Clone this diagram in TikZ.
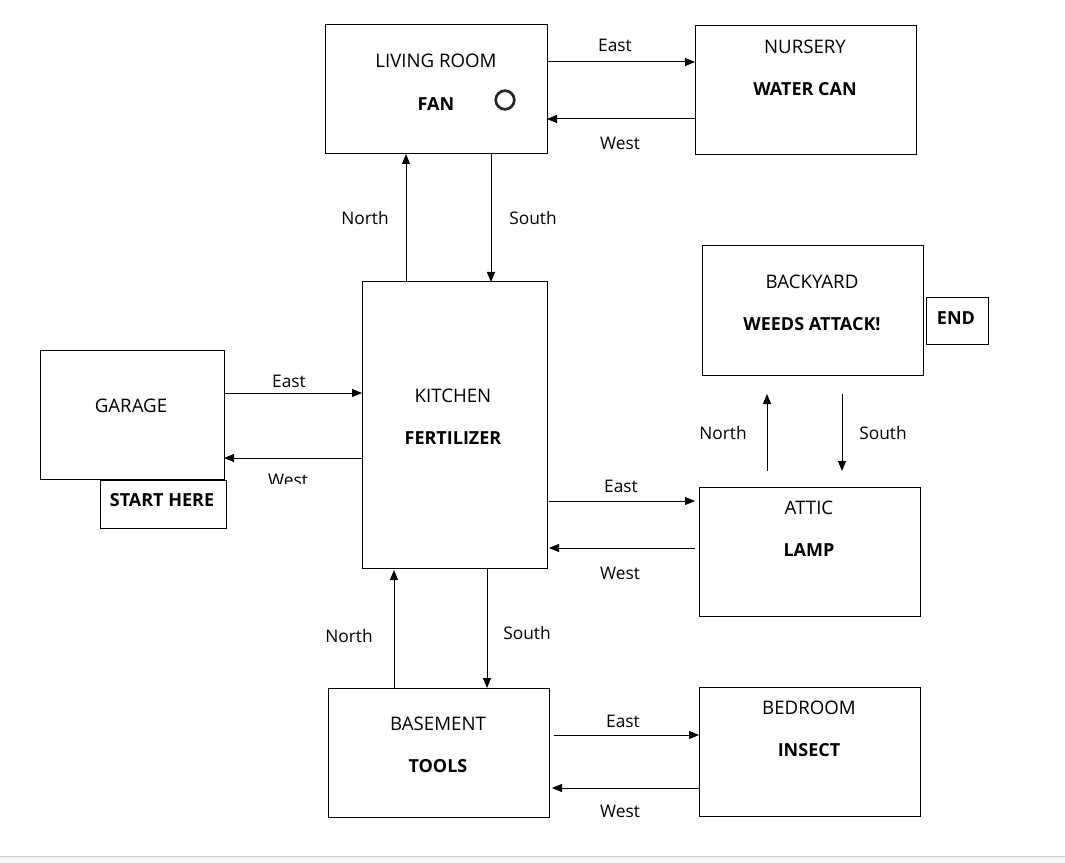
\documentclass[tikz,border=0pt]{standalone}
\usepackage{fontspec}
\setmainfont{Open Sans}
\usetikzlibrary{arrows.meta}
\tikzset{
  room/.style={draw=black, line width=0.75pt, inner sep=0pt, outer sep=0pt, fill=white},
  ttl/.style={font=\fontsize{14pt}{16pt}\selectfont, inner sep=0pt},
  itm/.style={font=\fontsize{13.5pt}{16pt}\selectfont\bfseries, inner sep=0pt},
  lbl/.style={font=\fontsize{13pt}{15pt}\selectfont, inner sep=0pt},
  arr/.style={line width=0.75pt, -{Triangle[length=7.5pt,width=6pt]}},
}
\begin{document}
\begin{tikzpicture}[x=0.75pt,y=-0.75pt]
\useasboundingbox (0,0) rectangle (1065,863);
\fill[gray!8] (0,857) rectangle (1065,863);
\draw[gray!40, line width=0.75pt] (0,856.5) -- (1065,856.5);

% boxes
\node[room, minimum width=166.5pt, minimum height=96.75pt] (lr) at (436,89.5) {};
\node[room, minimum width=165.75pt, minimum height=96.75pt] (nur) at (805.5,90.5) {};
\node[room, minimum width=138.75pt, minimum height=214.5pt] (kit) at (454.5,425) {};
\node[room, minimum width=138pt, minimum height=96.75pt] (gar) at (132,414.5) {};
\node[room, minimum width=94.5pt, minimum height=36pt] (start) at (163,504) {};
\node[room, minimum width=165.75pt, minimum height=96.75pt] (back) at (812.5,310.5) {};
\node[room, minimum width=46.5pt, minimum height=35.25pt] (endb) at (957,321.5) {};
\node[room, minimum width=165.75pt, minimum height=96.75pt] (att) at (809.5,551.5) {};
\node[room, minimum width=165.75pt, minimum height=96.75pt] (base) at (438.5,752.5) {};
\node[room, minimum width=165.75pt, minimum height=96.75pt] (bed) at (809.5,751.5) {};

% texts
\node[ttl] (lrt) at (436,61) {LIVING ROOM};
\node[itm] (lri) at (436,104) {FAN};
\draw[line width=2pt, black!85] (505,100) circle[radius=9.3];
\node[ttl] (nurt) at (805,47) {NURSERY};
\node[itm] (nuri) at (805,89) {WATER CAN};
\node[ttl] (kitt) at (453,396) {KITCHEN};
\node[itm] (kiti) at (453,438) {FERTILIZER};
\node[ttl] (gart) at (131,406) {GARAGE};
\node[itm] (startt) at (162,500) {START HERE};
\node[ttl] (backt) at (812,282) {BACKYARD};
\node[itm] (backi) at (812,324) {WEEDS ATTACK!};
\node[itm] (endt) at (956,318) {END};
\node[ttl] (attt) at (809,508) {ATTIC};
\node[itm] (atti) at (809,550) {LAMP};
\node[ttl] (baset) at (438,724) {BASEMENT};
\node[itm] (basei) at (438,766) {TOOLS};
\node[ttl] (bedt) at (809,708) {BEDROOM};
\node[itm] (bedi) at (809,750) {INSECT};

% coordinates for free arrow ends
\coordinate (bnS) at (767,471);
\coordinate (bnE) at (767,394);
\coordinate (bsS) at (842,394);
\coordinate (bsE) at (842,471);

% arrows
\draw[arr] (lr.east |- 0,62) -- (nur.west |- 0,62);
\draw[arr] (nur.west |- 0,119) -- (lr.east |- 0,119);
\draw[arr] (kit.north -| 406,0) -- (lr.south -| 406,0);
\draw[arr] (lr.south -| 491,0) -- (kit.north -| 491,0);
\draw[arr] (gar.east |- 0,393) -- (kit.west |- 0,393);
\draw[arr] (kit.west |- 0,458) -- (gar.east |- 0,458);
\draw[arr] ([xshift=1.5pt]kit.east |- 0,501) -- ([xshift=-3pt]att.west |- 0,501);
\draw[arr] ([xshift=-3pt]att.west |- 0,548) -- ([xshift=1.5pt]kit.east |- 0,548);
\draw[arr] (bnS) -- (bnE);
\draw[arr] (bsS) -- (bsE);
\draw[arr] (base.north -| 394,0) -- ([yshift=-1.5pt]kit.south -| 394,0);
\draw[arr] (kit.south -| 487,0) -- (base.north -| 487,0);
\draw[arr] ([xshift=3.75pt]base.east |- 0,735) -- (bed.west |- 0,735);
\draw[arr] (bed.west |- 0,788) -- ([xshift=2.25pt]base.east |- 0,788);

% labels
\node[lbl] (l1) at (615,45) {East};
\node[lbl] (l2) at (620,143) {West};
\node[lbl] (l3) at (365,218) {North};
\node[lbl] (l4) at (533,218) {South};
\node[lbl] (l5) at (289,381) {East};
\begin{scope}
\clip (250,465) rectangle (330,483.5);
\node[lbl] (l6) at (288,480) {West};
\end{scope}
\node[lbl] (l7) at (621,486) {East};
\begin{scope}
\clip (590,560) rectangle (660,578.5);
\node[lbl] (l8) at (620,573) {West};
\end{scope}
\node[lbl] (l9) at (723,433) {North};
\node[lbl] (l10) at (883,433) {South};
\node[lbl] (l11) at (349,636) {North};
\node[lbl] (l12) at (527,633) {South};
\node[lbl] (l13) at (623,721) {East};
\node[lbl] (l14) at (620,811) {West};
\end{tikzpicture}
\end{document}
